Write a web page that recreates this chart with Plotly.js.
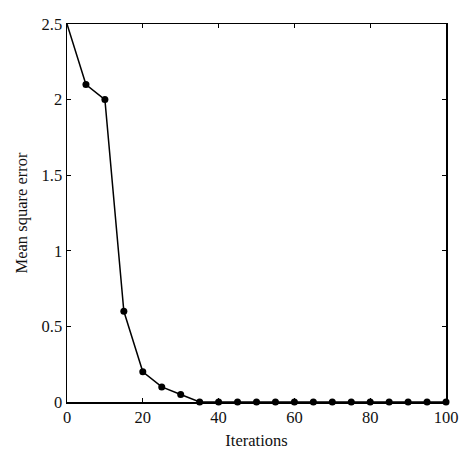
<!DOCTYPE html>
<html>
<head>
<meta charset="utf-8">
<script src="https://cdn.plot.ly/plotly-3.0.1.min.js"></script>
<style>
  html, body { margin: 0; padding: 0; background: #fff; }
  #chart { width: 474px; height: 462px; }
</style>
</head>
<body>
<div id="chart"></div>
<script>
// values
var iterations = [0, 5, 10, 15, 20, 25, 30, 35, 40, 45, 50, 55, 60, 65, 70, 75, 80, 85, 90, 95, 100];
var mse = [2.5, 2.1, 2.0, 0.6, 0.2, 0.1, 0.05, 0, 0, 0, 0, 0, 0, 0, 0, 0, 0, 0, 0, 0, 0];
var xTicks = [0, 20, 40, 60, 80, 100];
var yTicks = [0, 0.5, 1, 1.5, 2, 2.5];
var yTickText = ["0", "0.5", "1", "1.5", "2", "2.5"];

var serif = "Liberation Serif, Times New Roman, serif";

var data = [
  {
    x: iterations,
    y: mse,
    type: "scatter",
    mode: "lines",
    line: { color: "#000", width: 1.5 },
    hoverinfo: "skip"
  },
  {
    // first point has no dot in the original
    x: iterations.slice(1),
    y: mse.slice(1),
    type: "scatter",
    mode: "markers",
    marker: { color: "#000", size: 7 },
    cliponaxis: false
  }
];

var axisStyle = {
  showline: true,
  linecolor: "#000",
  linewidth: 1.5,
  mirror: "ticks",
  ticks: "inside",
  ticklen: 4,
  tickwidth: 1,
  tickcolor: "#000",
  showgrid: false,
  zeroline: false,
  tickfont: { family: serif, size: 16.5, color: "#111" }
};

var layout = {
  width: 474,
  height: 462,
  margin: { l: 67, r: 28, t: 24, b: 60 },
  paper_bgcolor: "#fff",
  plot_bgcolor: "#fff",
  showlegend: false,
  xaxis: Object.assign({}, axisStyle, {
    range: [0, 100],
    tickvals: xTicks,
    title: { text: "Iterations", font: { family: serif, size: 16.5, color: "#111" }, standoff: 8 }
  }),
  yaxis: Object.assign({}, axisStyle, {
    range: [0, 2.5],
    tickvals: yTicks,
    ticktext: yTickText,
    title: { text: "Mean square error", font: { family: serif, size: 16.5, color: "#111" }, standoff: 10 }
  })
};

Plotly.newPlot("chart", data, layout, { displayModeBar: false, staticPlot: true });
</script>
</body>
</html>
